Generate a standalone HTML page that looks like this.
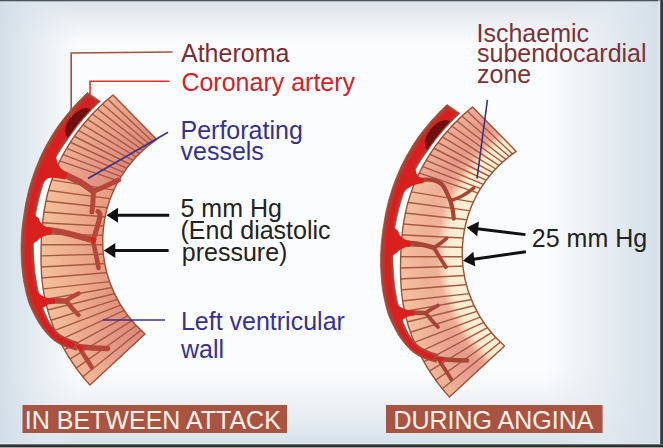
<!DOCTYPE html>
<html><head><meta charset="utf-8"><style>
html,body{margin:0;padding:0;background:#fff;width:663px;height:448px;overflow:hidden}
text{font-family:"Liberation Sans",sans-serif}
</style></head><body>
<svg width="663" height="448" viewBox="0 0 663 448" style="display:block">
<defs>
<linearGradient id="bgL" x1="0" y1="0" x2="80" y2="0" gradientUnits="userSpaceOnUse">
<stop offset="0" stop-color="#d2dee8" stop-opacity="1"/>
<stop offset="0.5" stop-color="#dfe7ef" stop-opacity="0.7"/>
<stop offset="1" stop-color="#e8eef3" stop-opacity="0"/>
</linearGradient>
<linearGradient id="bgR" x1="545" y1="0" x2="660" y2="0" gradientUnits="userSpaceOnUse">
<stop offset="0" stop-color="#e2e9f0" stop-opacity="0"/>
<stop offset="0.5" stop-color="#e2e9f0" stop-opacity="0.8"/>
<stop offset="1" stop-color="#d3dfe8" stop-opacity="1"/>
</linearGradient>
<linearGradient id="bgT" x1="0" y1="1" x2="0" y2="45" gradientUnits="userSpaceOnUse">
<stop offset="0" stop-color="#dae1e9" stop-opacity="1"/>
<stop offset="1" stop-color="#e3e9ef" stop-opacity="0"/>
</linearGradient>
<linearGradient id="bgB" x1="0" y1="370" x2="0" y2="444" gradientUnits="userSpaceOnUse">
<stop offset="0" stop-color="#e3eaf0" stop-opacity="0"/>
<stop offset="1" stop-color="#d6e1ea" stop-opacity="1"/>
</linearGradient>
<radialGradient id="wallgL" cx="225.6" cy="241.3" r="200" gradientUnits="userSpaceOnUse">
<stop offset="0.615" stop-color="#e69b84"/>
<stop offset="0.75" stop-color="#edac8d"/>
<stop offset="0.95" stop-color="#f5c29c"/>
</radialGradient>
<radialGradient id="wallgR" cx="225.6" cy="241.3" r="200" gradientUnits="userSpaceOnUse">
<stop offset="0.615" stop-color="#fcf1d5"/>
<stop offset="0.69" stop-color="#fbebcf"/>
<stop offset="0.74" stop-color="#f0b39a"/>
<stop offset="0.8" stop-color="#efb097"/>
<stop offset="0.95" stop-color="#f5c3a1"/>
</radialGradient>
<radialGradient id="pinkov" cx="225.6" cy="241.3" r="200" gradientUnits="userSpaceOnUse">
<stop offset="0.615" stop-color="#d8787a" stop-opacity="0.5"/>
<stop offset="0.95" stop-color="#d8787a" stop-opacity="0.2"/>
</radialGradient>
<radialGradient id="pinkovR" cx="225.6" cy="241.3" r="200" gradientUnits="userSpaceOnUse">
<stop offset="0.71" stop-color="#d8787a" stop-opacity="0"/>
<stop offset="0.78" stop-color="#d8787a" stop-opacity="0.4"/>
<stop offset="0.95" stop-color="#d8787a" stop-opacity="0.22"/>
</radialGradient>
<linearGradient id="lomg" x1="60" y1="300" x2="85" y2="350" gradientUnits="userSpaceOnUse">
<stop offset="0" stop-color="#fff" stop-opacity="0"/>
<stop offset="1" stop-color="#fff" stop-opacity="1"/>
</linearGradient>
<mask id="lomask" maskUnits="userSpaceOnUse" x="0" y="0" width="663" height="448"><rect x="0" y="0" width="663" height="448" fill="url(#lomg)"/></mask>
<filter id="blur4" x="-20%" y="-20%" width="140%" height="140%"><feGaussianBlur stdDeviation="4"/></filter>
</defs>
<rect width="663" height="448" fill="#fbfcfd"/>
<rect width="663" height="448" fill="url(#bgT)"/>
<rect width="663" height="448" fill="url(#bgB)"/>
<rect width="663" height="448" fill="url(#bgL)"/>
<rect width="663" height="448" fill="url(#bgR)"/>

<g id="L"><clipPath id="wcL"><path d="M113.0,95.0 L110.9,96.8 L108.8,98.5 L106.7,100.3 L104.6,102.1 L102.6,104.0 L100.6,105.8 L98.6,107.7 L96.7,109.7 L94.8,111.6 L92.9,113.6 L91.0,115.6 L89.2,117.6 L87.4,119.7 L85.6,121.7 L83.8,123.8 L82.1,126.0 L80.4,128.1 L78.8,130.3 L77.1,132.5 L75.5,134.7 L74.0,136.9 L72.4,139.2 L70.9,141.5 L69.4,143.8 L68.0,146.1 L66.6,148.5 L65.2,150.8 L63.9,153.2 L62.5,155.6 L61.3,158.0 L60.0,160.5 L58.8,162.9 L57.7,165.4 L56.6,167.9 L55.5,170.4 L54.4,173.0 L53.4,175.5 L52.5,178.1 L51.6,180.6 L50.7,183.2 L49.9,185.8 L49.1,188.4 L48.3,191.1 L47.6,193.7 L47.0,196.3 L46.4,199.0 L45.8,201.6 L45.3,204.3 L44.8,207.0 L44.3,209.7 L43.9,212.4 L43.5,215.0 L43.2,217.7 L42.9,220.4 L42.6,223.1 L42.3,225.8 L42.1,228.5 L41.9,231.2 L41.7,233.9 L41.6,236.6 L41.4,239.3 L41.3,242.0 L41.2,244.7 L41.1,247.4 L41.1,250.1 L41.0,252.8 L41.0,255.5 L41.0,258.2 L41.0,260.9 L41.1,263.6 L41.2,266.3 L41.3,269.0 L41.4,271.7 L41.6,274.4 L41.8,277.1 L42.0,279.8 L42.3,282.5 L42.6,285.2 L43.0,287.9 L43.4,290.6 L43.9,293.3 L44.4,296.0 L44.9,298.7 L45.5,301.3 L46.1,304.0 L46.8,306.6 L47.5,309.3 L48.2,311.9 L49.0,314.5 L49.9,317.1 L50.8,319.7 L51.7,322.3 L52.6,324.8 L53.6,327.4 L54.7,329.9 L55.8,332.4 L56.9,334.9 L58.0,337.4 L59.2,339.9 L60.5,342.3 L61.7,344.7 L63.0,347.2 L64.3,349.5 L65.7,351.9 L67.1,354.3 L68.5,356.6 L70.0,358.9 L71.5,361.2 L73.0,363.5 L74.6,365.7 L76.1,368.0 L77.8,370.2 L79.4,372.4 L81.1,374.5 L82.8,376.7 L84.5,378.8 L86.3,380.9 L88.1,382.9 L89.9,385.0 L145,334 A123,123 0 0 1 156.7,139.4 Z"/></clipPath>
<path d="M101.5,100.0 L99.1,102.2 L96.7,104.4 L94.4,106.6 L92.1,108.9 L89.9,111.3 L87.7,113.6 L85.5,116.0 L83.4,118.4 L81.2,120.9 L79.2,123.4 L77.1,125.9 L75.2,128.4 L73.2,131.0 L71.3,133.6 L69.4,136.3 L67.5,138.9 L65.6,141.5 L63.8,144.2 L62.0,146.9 L60.2,149.6 L58.5,152.4 L56.8,155.2 L55.2,158.0 L53.6,160.9 L52.0,163.7 L50.5,166.6 L49.0,169.5 L47.6,172.5 L46.2,175.5 L44.9,178.5 L43.7,181.5 L42.7,184.6 L41.7,187.7 L40.7,190.9 L39.8,194.0 L39.0,197.2 L38.2,200.4 L37.4,203.5 L36.7,206.7 L36.1,210.0 L35.5,213.2 L34.9,216.4 L34.5,219.7 L34.2,222.9 L33.9,226.2 L33.6,229.4 L33.4,232.7 L33.2,235.9 L33.1,239.2 L33.1,242.5 L33.1,245.7 L33.1,249.0 L33.2,252.2 L33.3,255.5 L33.5,258.7 L33.7,262.0 L33.9,265.2 L34.2,268.4 L34.6,271.7 L35.0,274.9 L35.5,278.1 L36.0,281.3 L36.5,284.5 L37.2,287.7 L37.8,290.9 L38.5,294.0 L39.3,297.2 L40.1,300.3 L41.0,303.4 L42.0,306.5 L43.5,309.4 L44.9,312.4 L46.3,315.3 L47.8,318.2 L49.3,321.1 L50.8,323.9 L52.4,326.7 L54.0,329.5 L55.7,332.2 L56.1,332.0 L54.9,329.1 L53.7,326.2 L52.6,323.2 L51.5,320.2 L50.4,317.3 L49.5,314.3 L48.6,311.2 L47.7,308.2 L46.9,305.1 L46.1,302.1 L45.5,299.0 L44.8,295.9 L44.3,292.8 L43.8,289.7 L43.3,286.6 L42.9,283.4 L42.6,280.3 L42.3,277.2 L42.1,274.1 L41.9,270.9 L41.7,267.8 L41.6,264.7 L41.5,261.5 L41.5,258.4 L41.5,255.3 L41.5,252.2 L41.6,249.0 L41.7,245.9 L41.8,242.8 L41.9,239.7 L42.1,236.6 L42.2,233.5 L42.5,230.3 L42.7,227.2 L43.0,224.1 L43.3,221.0 L43.7,217.9 L44.1,214.8 L44.5,211.7 L45.0,208.6 L45.5,205.5 L46.1,202.4 L46.8,199.3 L47.5,196.2 L48.3,193.2 L49.1,190.1 L50.0,187.1 L50.9,184.1 L51.9,181.1 L53.0,178.1 L54.1,175.2 L55.3,172.2 L56.5,169.3 L57.8,166.4 L59.1,163.5 L60.5,160.7 L61.9,157.9 L63.4,155.1 L64.9,152.3 L66.5,149.6 L68.1,146.9 L69.8,144.2 L71.5,141.5 L73.2,138.9 L75.0,136.3 L76.9,133.7 L78.8,131.1 L80.7,128.6 L82.6,126.1 L84.6,123.7 L86.7,121.3 L88.7,118.9 L90.9,116.5 L93.0,114.2 L95.2,111.9 L97.4,109.7 L99.7,107.4 L102.0,105.3 L104.3,103.1 Z" fill="#ffffff"/>
<path d="M113.0,95.0 L110.9,96.8 L108.8,98.5 L106.7,100.3 L104.6,102.1 L102.6,104.0 L100.6,105.8 L98.6,107.7 L96.7,109.7 L94.8,111.6 L92.9,113.6 L91.0,115.6 L89.2,117.6 L87.4,119.7 L85.6,121.7 L83.8,123.8 L82.1,126.0 L80.4,128.1 L78.8,130.3 L77.1,132.5 L75.5,134.7 L74.0,136.9 L72.4,139.2 L70.9,141.5 L69.4,143.8 L68.0,146.1 L66.6,148.5 L65.2,150.8 L63.9,153.2 L62.5,155.6 L61.3,158.0 L60.0,160.5 L58.8,162.9 L57.7,165.4 L56.6,167.9 L55.5,170.4 L54.4,173.0 L53.4,175.5 L52.5,178.1 L51.6,180.6 L50.7,183.2 L49.9,185.8 L49.1,188.4 L48.3,191.1 L47.6,193.7 L47.0,196.3 L46.4,199.0 L45.8,201.6 L45.3,204.3 L44.8,207.0 L44.3,209.7 L43.9,212.4 L43.5,215.0 L43.2,217.7 L42.9,220.4 L42.6,223.1 L42.3,225.8 L42.1,228.5 L41.9,231.2 L41.7,233.9 L41.6,236.6 L41.4,239.3 L41.3,242.0 L41.2,244.7 L41.1,247.4 L41.1,250.1 L41.0,252.8 L41.0,255.5 L41.0,258.2 L41.0,260.9 L41.1,263.6 L41.2,266.3 L41.3,269.0 L41.4,271.7 L41.6,274.4 L41.8,277.1 L42.0,279.8 L42.3,282.5 L42.6,285.2 L43.0,287.9 L43.4,290.6 L43.9,293.3 L44.4,296.0 L44.9,298.7 L45.5,301.3 L46.1,304.0 L46.8,306.6 L47.5,309.3 L48.2,311.9 L49.0,314.5 L49.9,317.1 L50.8,319.7 L51.7,322.3 L52.6,324.8 L53.6,327.4 L54.7,329.9 L55.8,332.4 L56.9,334.9 L58.0,337.4 L59.2,339.9 L60.5,342.3 L61.7,344.7 L63.0,347.2 L64.3,349.5 L65.7,351.9 L67.1,354.3 L68.5,356.6 L70.0,358.9 L71.5,361.2 L73.0,363.5 L74.6,365.7 L76.1,368.0 L77.8,370.2 L79.4,372.4 L81.1,374.5 L82.8,376.7 L84.5,378.8 L86.3,380.9 L88.1,382.9 L89.9,385.0 L145,334 A123,123 0 0 1 156.7,139.4 Z" fill="url(#wallgL)"/>
<g clip-path="url(#wcL)">
<path d="M100,40 L0,150 L56,162 C64,171 72,176 80,180 C85,183 89,186 93,189 C101,186.5 110,183 119,179 L220,100 Z" fill="url(#pinkov)"/>
<rect x="20" y="280" width="180" height="150" fill="url(#pinkov)" mask="url(#lomask)"/>
<path d="M104.9,96.6 L156.7,145.5 M99.4,101.5 L153.6,147.8 M94.2,106.5 L150.3,150.4 M89.1,111.8 L147.1,153.2 M84.2,117.2 L143.8,156.3 M79.5,122.8 L140.6,159.5 M75.1,128.6 L137.4,162.9 M70.8,134.5 L134.3,166.5 M66.7,140.5 L131.3,170.3 M62.9,146.7 L128.5,174.3 M59.3,153.1 L125.8,178.4 M55.9,159.6 L123.2,182.7 M36.2,278.4 L111.7,272.2 M35.0,267.3 L109.7,263.2 M34.4,256.1 L108.3,254.0 M34.4,244.8 L107.7,244.8 M35.0,233.7 L107.7,235.5 M36.3,222.5 L108.6,226.3 M38.2,211.5 L110.1,217.2 M40.6,200.5 L112.3,208.2 M43.7,189.7 L115.3,199.4 M47.3,179.1 L118.9,190.9 M38.0,289.5 L114.5,281.1 M40.4,300.3 L116.7,286.8 M43.4,311.0 L119.3,292.5 M46.9,321.5 L122.1,297.9 M51.0,331.9 L125.2,303.3 M55.7,341.9 L128.6,308.4 M61.0,351.7 L132.2,313.4 M66.7,361.2 L136.1,318.2 M73.0,370.4 L140.2,322.8 M79.7,379.2 L144.6,327.1" stroke="#a65a41" stroke-width="1.4" fill="none"/>
</g>
<path d="M113.0,95.0 L110.9,96.8 L108.8,98.5 L106.7,100.3 L104.6,102.1 L102.6,104.0 L100.6,105.8 L98.6,107.7 L96.7,109.7 L94.8,111.6 L92.9,113.6 L91.0,115.6 L89.2,117.6 L87.4,119.7 L85.6,121.7 L83.8,123.8 L82.1,126.0 L80.4,128.1 L78.8,130.3 L77.1,132.5 L75.5,134.7 L74.0,136.9 L72.4,139.2 L70.9,141.5 L69.4,143.8 L68.0,146.1 L66.6,148.5 L65.2,150.8 L63.9,153.2 L62.5,155.6 L61.3,158.0 L60.0,160.5 L58.8,162.9 L57.7,165.4 L56.6,167.9 L55.5,170.4 L54.4,173.0 L53.4,175.5 L52.5,178.1 L51.6,180.6 L50.7,183.2 L49.9,185.8 L49.1,188.4 L48.3,191.1 L47.6,193.7 L47.0,196.3 L46.4,199.0 L45.8,201.6 L45.3,204.3 L44.8,207.0 L44.3,209.7 L43.9,212.4 L43.5,215.0 L43.2,217.7 L42.9,220.4 L42.6,223.1 L42.3,225.8 L42.1,228.5 L41.9,231.2 L41.7,233.9 L41.6,236.6 L41.4,239.3 L41.3,242.0 L41.2,244.7 L41.1,247.4 L41.1,250.1 L41.0,252.8 L41.0,255.5 L41.0,258.2 L41.0,260.9 L41.1,263.6 L41.2,266.3 L41.3,269.0 L41.4,271.7 L41.6,274.4 L41.8,277.1 L42.0,279.8 L42.3,282.5 L42.6,285.2 L43.0,287.9 L43.4,290.6 L43.9,293.3 L44.4,296.0 L44.9,298.7 L45.5,301.3 L46.1,304.0 L46.8,306.6 L47.5,309.3 L48.2,311.9 L49.0,314.5 L49.9,317.1 L50.8,319.7 L51.7,322.3 L52.6,324.8 L53.6,327.4 L54.7,329.9 L55.8,332.4 L56.9,334.9 L58.0,337.4 L59.2,339.9 L60.5,342.3 L61.7,344.7 L63.0,347.2 L64.3,349.5 L65.7,351.9 L67.1,354.3 L68.5,356.6 L70.0,358.9 L71.5,361.2 L73.0,363.5 L74.6,365.7 L76.1,368.0 L77.8,370.2 L79.4,372.4 L81.1,374.5 L82.8,376.7 L84.5,378.8 L86.3,380.9 L88.1,382.9 L89.9,385.0 L145,334 A123,123 0 0 1 156.7,139.4 Z" fill="none" stroke="#9e4f36" stroke-width="1.4" stroke-linejoin="round"/>
<path d="M87.5,92.6 L85.7,94.3 L83.9,96.0 L82.2,97.7 L80.4,99.5 L78.7,101.3 L77.0,103.1 L75.3,104.9 L73.6,106.7 L71.9,108.6 L70.3,110.5 L68.7,112.4 L67.1,114.3 L65.5,116.2 L64.0,118.2 L62.5,120.1 L61.0,122.1 L59.5,124.1 L58.0,126.1 L56.6,128.2 L55.2,130.2 L53.9,132.3 L52.5,134.4 L51.3,136.6 L50.0,138.7 L48.8,140.9 L47.5,143.0 L46.3,145.2 L45.2,147.4 L44.0,149.6 L42.9,151.8 L41.8,154.1 L40.8,156.3 L39.7,158.6 L38.8,160.9 L37.8,163.2 L36.9,165.5 L35.9,167.8 L35.1,170.1 L34.2,172.4 L33.4,174.8 L32.6,177.1 L31.8,179.5 L31.1,181.8 L30.4,184.2 L29.7,186.6 L29.0,189.0 L28.4,191.4 L27.8,193.8 L27.3,196.2 L26.7,198.6 L26.2,201.1 L25.7,203.5 L25.3,205.9 L24.9,208.3 L24.5,210.8 L24.1,213.2 L23.7,215.7 L23.3,218.1 L23.0,220.6 L22.7,223.0 L22.4,225.5 L22.1,227.9 L21.9,230.4 L21.7,232.8 L21.5,235.3 L21.4,237.7 L21.3,240.2 L21.2,242.7 L21.1,245.1 L21.1,247.6 L21.1,250.1 L21.1,252.5 L21.2,255.0 L21.3,257.5 L21.4,259.9 L21.6,262.4 L21.7,264.8 L21.9,267.3 L22.2,269.8 L22.4,272.2 L22.7,274.7 L23.0,277.1 L23.4,279.5 L23.8,282.0 L24.3,284.4 L24.8,286.8 L25.3,289.2 L25.8,291.6 L26.4,294.0 L27.0,296.4 L27.7,298.7 L28.3,301.1 L29.1,303.4 L30.0,305.7 L31.1,308.0 L32.1,310.2 L33.2,312.4 L34.3,314.6 L35.4,316.8 L36.6,319.0 L37.8,321.1 L39.0,323.2 L40.4,325.3 L41.9,327.3 L43.4,329.3 L44.9,331.2 L46.5,333.1 L48.4,334.8 L50.4,336.5 L53.1,335.3 L52.8,332.9 L52.4,330.5 L51.6,328.3 L50.7,326.2 L49.7,324.1 L48.8,321.9 L47.8,319.8 L46.9,317.7 L45.9,315.5 L45.0,313.4 L44.1,311.2 L43.2,309.0 L42.4,306.8 L41.7,304.6 L41.0,302.4 L40.3,300.1 L39.7,297.8 L39.2,295.6 L38.6,293.3 L38.1,291.0 L37.7,288.7 L37.2,286.4 L36.8,284.1 L36.4,281.8 L36.0,279.4 L35.6,277.1 L35.3,274.8 L35.0,272.5 L34.7,270.1 L34.5,267.8 L34.3,265.5 L34.1,263.1 L33.9,260.8 L33.8,258.4 L33.7,256.1 L33.6,253.7 L33.5,251.4 L33.4,249.0 L33.4,246.6 L33.4,244.3 L33.4,241.9 L33.4,239.6 L33.5,237.2 L33.6,234.8 L33.7,232.5 L33.9,230.1 L34.0,227.8 L34.2,225.4 L34.5,223.1 L34.7,220.7 L35.0,218.4 L35.3,216.0 L35.7,213.7 L36.1,211.3 L36.6,209.0 L37.0,206.7 L37.5,204.4 L38.1,202.1 L38.6,199.8 L39.2,197.5 L39.8,195.2 L40.4,192.9 L41.1,190.6 L41.8,188.3 L42.5,186.1 L43.2,183.8 L44.0,181.6 L44.9,179.4 L45.8,177.2 L46.8,175.0 L47.8,172.9 L48.8,170.7 L49.8,168.6 L50.9,166.5 L52.0,164.4 L53.1,162.3 L54.3,160.3 L55.4,158.2 L56.6,156.2 L57.8,154.1 L59.0,152.1 L60.3,150.1 L61.5,148.1 L62.8,146.2 L64.1,144.2 L65.5,142.3 L66.8,140.4 L68.2,138.5 L69.6,136.6 L70.9,134.7 L72.3,132.7 L73.7,130.9 L75.1,129.0 L76.5,127.1 L78.0,125.3 L79.5,123.5 L81.0,121.7 L82.5,119.9 L84.0,118.1 L85.6,116.4 L87.1,114.7 L88.7,112.9 L90.3,111.2 L92.0,109.5 L93.6,107.9 L95.3,106.2 L96.9,104.6 L98.6,103.0 L100.4,101.4 Z" fill="#a24836" stroke="#a24836" stroke-width="0.8" stroke-linejoin="round"/>
<path d="M87.9,95.1 L85.7,97.2 L83.6,99.3 L81.5,101.4 L79.5,103.5 L77.4,105.6 L75.4,107.8 L73.5,110.0 L71.5,112.3 L69.6,114.5 L67.7,116.8 L65.9,119.1 L64.1,121.5 L62.3,123.9 L60.5,126.3 L58.8,128.7 L57.1,131.1 L55.5,133.6 L54.0,136.1 L52.4,138.7 L50.9,141.3 L49.5,143.8 L48.1,146.4 L46.7,149.1 L45.3,151.7 L44.0,154.4 L42.7,157.0 L41.5,159.7 L40.4,162.5 L39.2,165.2 L38.1,168.0 L37.1,170.7 L36.0,173.5 L35.1,176.3 L34.1,179.1 L33.2,181.9 L32.4,184.8 L31.6,187.6 L30.8,190.5 L30.1,193.3 L29.4,196.2 L28.8,199.1 L28.2,202.0 L27.6,204.9 L27.1,207.8 L26.6,210.7 L26.2,213.6 L25.7,216.5 L25.3,219.4 L24.9,222.3 L24.5,225.2 L24.2,228.2 L24.0,231.1 L23.7,234.0 L23.5,237.0 L23.4,239.9 L23.3,242.9 L23.2,245.8 L23.2,248.7 L23.2,251.7 L23.3,254.6 L23.4,257.5 L23.5,260.5 L23.7,263.4 L24.0,266.3 L24.2,269.3 L24.5,272.2 L24.9,275.1 L25.3,278.0 L25.7,280.9 L26.3,283.8 L26.9,286.7 L27.5,289.5 L28.2,292.4 L28.9,295.2 L29.7,298.1 L30.4,300.9 L31.4,303.6 L32.6,306.3 L33.9,309.0 L35.1,311.7 L36.5,314.3 L37.8,316.9 L39.2,319.4 L40.7,322.0 L42.3,324.4 L44.1,326.8 L45.8,329.2 L47.7,331.5 L49.9,333.6 L51.3,333.0 L50.8,330.1 L49.6,327.6 L48.5,325.0 L47.3,322.4 L46.2,319.8 L45.0,317.2 L43.9,314.6 L42.8,312.0 L41.7,309.3 L40.8,306.7 L39.9,304.0 L39.1,301.2 L38.4,298.5 L37.7,295.7 L37.0,293.0 L36.4,290.2 L35.9,287.4 L35.3,284.6 L34.8,281.8 L34.4,279.0 L34.0,276.1 L33.6,273.3 L33.3,270.5 L33.0,267.6 L32.7,264.8 L32.5,262.0 L32.3,259.1 L32.2,256.3 L32.1,253.4 L32.0,250.5 L31.9,247.7 L31.9,244.8 L31.9,242.0 L31.9,239.1 L32.0,236.2 L32.2,233.4 L32.3,230.5 L32.5,227.7 L32.8,224.8 L33.1,221.9 L33.4,219.1 L33.8,216.2 L34.2,213.4 L34.7,210.6 L35.3,207.8 L35.9,204.9 L36.5,202.1 L37.2,199.3 L37.9,196.6 L38.6,193.8 L39.4,191.0 L40.2,188.3 L41.1,185.5 L42.0,182.8 L42.9,180.1 L44.1,177.4 L45.2,174.8 L46.5,172.2 L47.7,169.6 L49.0,167.0 L50.3,164.5 L51.6,161.9 L53.0,159.4 L54.4,156.9 L55.9,154.5 L57.3,152.0 L58.8,149.6 L60.4,147.2 L62.0,144.8 L63.6,142.4 L65.2,140.1 L66.9,137.8 L68.5,135.5 L70.2,133.2 L71.8,130.9 L73.5,128.6 L75.3,126.3 L77.0,124.1 L78.8,121.9 L80.6,119.7 L82.5,117.6 L84.4,115.5 L86.3,113.4 L88.2,111.3 L90.2,109.2 L92.2,107.2 L94.2,105.2 L96.2,103.2 L98.3,101.3 Z" fill="#bf3328"/>
<path d="M88.1,98.1 L86.1,100.1 L84.0,102.1 L82.0,104.2 L80.0,106.3 L78.1,108.4 L76.1,110.5 L74.2,112.7 L72.3,114.9 L70.5,117.1 L68.7,119.3 L66.9,121.6 L65.1,123.9 L63.4,126.2 L61.7,128.5 L60.1,130.9 L58.5,133.3 L56.9,135.7 L55.4,138.2 L53.9,140.7 L52.5,143.2 L51.1,145.7 L49.7,148.2 L48.4,150.8 L47.1,153.4 L45.8,155.9 L44.6,158.5 L43.4,161.2 L42.3,163.8 L41.2,166.5 L40.1,169.2 L39.1,171.9 L38.1,174.6 L37.2,177.3 L36.2,180.0 L35.4,182.8 L34.6,185.5 L33.8,188.3 L33.0,191.1 L32.3,193.8 L31.7,196.6 L31.0,199.4 L30.5,202.3 L29.9,205.1 L29.4,207.9 L28.9,210.7 L28.5,213.5 L28.0,216.4 L27.6,219.2 L27.2,222.0 L26.9,224.9 L26.6,227.7 L26.3,230.6 L26.1,233.4 L25.9,236.3 L25.7,239.1 L25.6,242.0 L25.5,244.8 L25.5,247.7 L25.5,250.6 L25.5,253.4 L25.6,256.3 L25.8,259.1 L25.9,262.0 L26.1,264.8 L26.4,267.7 L26.7,270.5 L27.0,273.4 L27.4,276.2 L27.7,279.0 L28.2,281.8 L28.8,284.6 L29.4,287.4 L30.0,290.2 L30.7,293.0 L31.4,295.7 L32.2,298.5 L32.9,301.2 L34.0,303.9 L35.2,306.5 L36.4,309.1 L37.7,311.6 L39.0,314.2 L40.3,316.7 L41.7,319.2 L43.1,321.7 L44.7,324.0 L46.5,326.3 L48.2,328.6 L50.0,330.8 L49.6,331.0 L48.4,328.5 L47.2,325.9 L46.1,323.4 L45.0,320.8 L43.9,318.2 L42.7,315.7 L41.6,313.1 L40.6,310.5 L39.6,307.8 L38.7,305.1 L37.9,302.4 L37.1,299.7 L36.4,297.0 L35.8,294.3 L35.2,291.5 L34.6,288.7 L34.1,286.0 L33.6,283.2 L33.1,280.4 L32.7,277.6 L32.3,274.8 L31.9,272.0 L31.6,269.2 L31.3,266.4 L31.1,263.6 L30.9,260.8 L30.7,258.0 L30.6,255.1 L30.5,252.3 L30.5,249.5 L30.4,246.6 L30.4,243.8 L30.4,241.0 L30.5,238.1 L30.6,235.3 L30.7,232.5 L30.9,229.6 L31.1,226.8 L31.4,224.0 L31.6,221.2 L32.0,218.3 L32.3,215.5 L32.8,212.7 L33.3,209.9 L33.9,207.1 L34.5,204.3 L35.1,201.6 L35.8,198.8 L36.5,196.0 L37.2,193.3 L38.0,190.5 L38.8,187.8 L39.7,185.1 L40.6,182.4 L41.5,179.7 L42.6,177.1 L43.7,174.5 L44.9,171.9 L46.2,169.3 L47.4,166.8 L48.7,164.2 L50.0,161.7 L51.4,159.2 L52.8,156.8 L54.2,154.3 L55.7,151.9 L57.1,149.5 L58.7,147.1 L60.2,144.7 L61.8,142.4 L63.4,140.1 L65.0,137.8 L66.7,135.5 L68.3,133.2 L70.0,130.9 L71.6,128.6 L73.3,126.4 L75.1,124.2 L76.8,122.0 L78.6,119.8 L80.4,117.7 L82.3,115.6 L84.2,113.5 L86.1,111.4 L88.0,109.3 L89.9,107.3 L91.9,105.3 L93.9,103.4 L95.9,101.4 Z" fill="#da1d21"/>
<path d="M67.5,138.3 L66.9,136.9 L66.3,135.6 L65.7,134.3 L65.6,133.3 L65.5,132.2 L65.3,131.2 L65.2,130.1 L65.2,129.2 L65.5,128.4 L65.7,127.6 L65.9,126.8 L66.2,126.0 L66.4,125.2 L66.6,124.3 L67.0,123.6 L67.4,122.9 L67.8,122.2 L68.2,121.5 L68.6,120.8 L69.0,120.2 L69.5,119.5 L69.9,118.8 L70.3,118.1 L70.8,117.4 L71.3,116.9 L71.9,116.3 L72.5,115.7 L73.1,115.2 L73.6,114.6 L74.2,114.0 L74.8,113.5 L75.4,112.9 L76.0,112.4 L76.6,111.9 L77.4,111.5 L78.1,111.1 L78.8,110.6 L79.5,110.2 L80.2,109.8 L81.0,109.4 L81.8,109.1 L82.7,108.8 L83.6,108.6 L84.5,108.4 L85.4,108.1 L86.5,108.0 L88.0,108.4 L89.4,108.7 L90.9,109.0 L90.9,109.0 L90.3,109.6 L89.8,110.1 L89.3,110.7 L88.8,111.3 L88.2,111.8 L87.7,112.4 L87.2,112.9 L86.7,113.5 L86.2,114.1 L85.7,114.6 L85.2,115.2 L84.7,115.8 L84.2,116.4 L83.7,116.9 L83.2,117.5 L82.7,118.1 L82.2,118.7 L81.7,119.3 L81.2,119.9 L80.7,120.4 L80.2,121.0 L79.7,121.6 L79.2,122.2 L78.8,122.8 L78.3,123.4 L77.8,124.0 L77.3,124.6 L76.9,125.2 L76.4,125.8 L75.9,126.4 L75.5,127.0 L75.0,127.6 L74.5,128.3 L74.1,128.9 L73.6,129.5 L73.2,130.1 L72.7,130.7 L72.3,131.3 L71.8,132.0 L71.4,132.6 L70.9,133.2 L70.5,133.8 L70.1,134.5 L69.6,135.1 L69.2,135.7 L68.8,136.4 L68.3,137.0 L67.9,137.6 L67.5,138.3 Z" fill="#6e0f10"/><path d="M40.5,315 C44,323 48.6,329 53,334 C58,339.5 66,343.5 78,346.5" stroke="#a84836" stroke-width="9" fill="none" stroke-linecap="butt"/>
<path d="M40.8,315.5 C44,323 48.6,329 53,334 C58,339.5 64,342.5 72,345" stroke="#d81e21" stroke-width="5" fill="none" stroke-linecap="round"/>
<path d="M58,171.5 C64,174.5 72,178 80,182 C85,185 89,188 93.5,191.5" stroke="#b6463a" stroke-width="6.50" fill="none" stroke-linecap="round"/>
<path d="M94,191 C101,188.5 110,184 118.5,180" stroke="#b6463a" stroke-width="5.00" fill="none" stroke-linecap="round"/>
<path d="M93.5,192 C93.2,199 92.7,206 92,212" stroke="#b6463a" stroke-width="5.00" fill="none" stroke-linecap="round"/>
<path d="M48,230 C54,230.5 62,232 72,234.5 C80,236.5 87,238.5 93,240.5" stroke="#b6463a" stroke-width="6.00" fill="none" stroke-linecap="round"/>
<path d="M93,240 C95.5,233 98.5,224 100,216 C100.2,214 99.5,212.5 98,211.5" stroke="#b6463a" stroke-width="5.00" fill="none" stroke-linecap="round"/>
<path d="M93,241 C95,250 97,259 98.5,268" stroke="#b6463a" stroke-width="4.50" fill="none" stroke-linecap="round"/>
<path d="M50,300.5 C54,300.8 60,301 66,301" stroke="#b6463a" stroke-width="5.50" fill="none" stroke-linecap="round"/>
<path d="M66,301 C70,298 74,295.5 78.5,293.5" stroke="#b6463a" stroke-width="4.50" fill="none" stroke-linecap="round"/>
<path d="M66,301 C70,306 74,310.5 78.5,315" stroke="#b6463a" stroke-width="4.50" fill="none" stroke-linecap="round"/>
<path d="M77,346.3 C88,348 98,348.5 107.5,348.5" stroke="#b6463a" stroke-width="5.50" fill="none" stroke-linecap="round"/>
<path d="M79,347 C83,354 88,361 91.8,367.4" stroke="#b6463a" stroke-width="4.50" fill="none" stroke-linecap="round"/>
<path d="M54,152 L56.5,159 Q58,169 68,173 L65,179.5 Q55,177 48.5,178 L38,186 Z" fill="#d9201f"/>
<path d="M30,212 L38.5,218 Q41,227 52,228.5 L52,234.5 Q42,235 37,241 L29,246 Z" fill="#d9201f"/>
<path d="M89,236 L97,239 L93,245 Z" fill="#d9201f"/>
<path d="M33,288 L41,295 Q46,298.5 55,298.8 L55,303.5 Q47,304 45,306.5 L37,312 Z" fill="#d9201f"/>
<path d="M76,345 L84,346 L81,352 Z" fill="#d9201f"/></g>
<g transform="translate(359.5,12)"><clipPath id="wcR"><path d="M113.0,95.0 L110.9,96.8 L108.8,98.5 L106.7,100.3 L104.6,102.1 L102.6,104.0 L100.6,105.8 L98.6,107.7 L96.7,109.7 L94.8,111.6 L92.9,113.6 L91.0,115.6 L89.2,117.6 L87.4,119.7 L85.6,121.7 L83.8,123.8 L82.1,126.0 L80.4,128.1 L78.8,130.3 L77.1,132.5 L75.5,134.7 L74.0,136.9 L72.4,139.2 L70.9,141.5 L69.4,143.8 L68.0,146.1 L66.6,148.5 L65.2,150.8 L63.9,153.2 L62.5,155.6 L61.3,158.0 L60.0,160.5 L58.8,162.9 L57.7,165.4 L56.6,167.9 L55.5,170.4 L54.4,173.0 L53.4,175.5 L52.5,178.1 L51.6,180.6 L50.7,183.2 L49.9,185.8 L49.1,188.4 L48.3,191.1 L47.6,193.7 L47.0,196.3 L46.4,199.0 L45.8,201.6 L45.3,204.3 L44.8,207.0 L44.3,209.7 L43.9,212.4 L43.5,215.0 L43.2,217.7 L42.9,220.4 L42.6,223.1 L42.3,225.8 L42.1,228.5 L41.9,231.2 L41.7,233.9 L41.6,236.6 L41.4,239.3 L41.3,242.0 L41.2,244.7 L41.1,247.4 L41.1,250.1 L41.0,252.8 L41.0,255.5 L41.0,258.2 L41.0,260.9 L41.1,263.6 L41.2,266.3 L41.3,269.0 L41.4,271.7 L41.6,274.4 L41.8,277.1 L42.0,279.8 L42.3,282.5 L42.6,285.2 L43.0,287.9 L43.4,290.6 L43.9,293.3 L44.4,296.0 L44.9,298.7 L45.5,301.3 L46.1,304.0 L46.8,306.6 L47.5,309.3 L48.2,311.9 L49.0,314.5 L49.9,317.1 L50.8,319.7 L51.7,322.3 L52.6,324.8 L53.6,327.4 L54.7,329.9 L55.8,332.4 L56.9,334.9 L58.0,337.4 L59.2,339.9 L60.5,342.3 L61.7,344.7 L63.0,347.2 L64.3,349.5 L65.7,351.9 L67.1,354.3 L68.5,356.6 L70.0,358.9 L71.5,361.2 L73.0,363.5 L74.6,365.7 L76.1,368.0 L77.8,370.2 L79.4,372.4 L81.1,374.5 L82.8,376.7 L84.5,378.8 L86.3,380.9 L88.1,382.9 L89.9,385.0 L145,334 A123,123 0 0 1 156.7,139.4 Z"/></clipPath>
<path d="M101.5,100.0 L99.1,102.2 L96.7,104.4 L94.4,106.6 L92.1,108.9 L89.9,111.3 L87.7,113.6 L85.5,116.0 L83.4,118.4 L81.2,120.9 L79.2,123.4 L77.1,125.9 L75.2,128.4 L73.2,131.0 L71.3,133.6 L69.4,136.3 L67.5,138.9 L65.6,141.5 L63.8,144.2 L62.0,146.9 L60.2,149.6 L58.5,152.4 L56.8,155.2 L55.2,158.0 L53.6,160.9 L52.0,163.7 L50.5,166.6 L49.0,169.5 L47.6,172.5 L46.2,175.5 L44.9,178.5 L43.7,181.5 L42.7,184.6 L41.7,187.7 L40.7,190.9 L39.8,194.0 L39.0,197.2 L38.2,200.4 L37.4,203.5 L36.7,206.7 L36.1,210.0 L35.5,213.2 L34.9,216.4 L34.5,219.7 L34.2,222.9 L33.9,226.2 L33.6,229.4 L33.4,232.7 L33.2,235.9 L33.1,239.2 L33.1,242.5 L33.1,245.7 L33.1,249.0 L33.2,252.2 L33.3,255.5 L33.5,258.7 L33.7,262.0 L33.9,265.2 L34.2,268.4 L34.6,271.7 L35.0,274.9 L35.5,278.1 L36.0,281.3 L36.5,284.5 L37.2,287.7 L37.8,290.9 L38.5,294.0 L39.3,297.2 L40.1,300.3 L41.0,303.4 L42.0,306.5 L43.5,309.4 L44.9,312.4 L46.3,315.3 L47.8,318.2 L49.3,321.1 L50.8,323.9 L52.4,326.7 L54.0,329.5 L55.7,332.2 L56.1,332.0 L54.9,329.1 L53.7,326.2 L52.6,323.2 L51.5,320.2 L50.4,317.3 L49.5,314.3 L48.6,311.2 L47.7,308.2 L46.9,305.1 L46.1,302.1 L45.5,299.0 L44.8,295.9 L44.3,292.8 L43.8,289.7 L43.3,286.6 L42.9,283.4 L42.6,280.3 L42.3,277.2 L42.1,274.1 L41.9,270.9 L41.7,267.8 L41.6,264.7 L41.5,261.5 L41.5,258.4 L41.5,255.3 L41.5,252.2 L41.6,249.0 L41.7,245.9 L41.8,242.8 L41.9,239.7 L42.1,236.6 L42.2,233.5 L42.5,230.3 L42.7,227.2 L43.0,224.1 L43.3,221.0 L43.7,217.9 L44.1,214.8 L44.5,211.7 L45.0,208.6 L45.5,205.5 L46.1,202.4 L46.8,199.3 L47.5,196.2 L48.3,193.2 L49.1,190.1 L50.0,187.1 L50.9,184.1 L51.9,181.1 L53.0,178.1 L54.1,175.2 L55.3,172.2 L56.5,169.3 L57.8,166.4 L59.1,163.5 L60.5,160.7 L61.9,157.9 L63.4,155.1 L64.9,152.3 L66.5,149.6 L68.1,146.9 L69.8,144.2 L71.5,141.5 L73.2,138.9 L75.0,136.3 L76.9,133.7 L78.8,131.1 L80.7,128.6 L82.6,126.1 L84.6,123.7 L86.7,121.3 L88.7,118.9 L90.9,116.5 L93.0,114.2 L95.2,111.9 L97.4,109.7 L99.7,107.4 L102.0,105.3 L104.3,103.1 Z" fill="#ffffff"/>
<path d="M113.0,95.0 L110.9,96.8 L108.8,98.5 L106.7,100.3 L104.6,102.1 L102.6,104.0 L100.6,105.8 L98.6,107.7 L96.7,109.7 L94.8,111.6 L92.9,113.6 L91.0,115.6 L89.2,117.6 L87.4,119.7 L85.6,121.7 L83.8,123.8 L82.1,126.0 L80.4,128.1 L78.8,130.3 L77.1,132.5 L75.5,134.7 L74.0,136.9 L72.4,139.2 L70.9,141.5 L69.4,143.8 L68.0,146.1 L66.6,148.5 L65.2,150.8 L63.9,153.2 L62.5,155.6 L61.3,158.0 L60.0,160.5 L58.8,162.9 L57.7,165.4 L56.6,167.9 L55.5,170.4 L54.4,173.0 L53.4,175.5 L52.5,178.1 L51.6,180.6 L50.7,183.2 L49.9,185.8 L49.1,188.4 L48.3,191.1 L47.6,193.7 L47.0,196.3 L46.4,199.0 L45.8,201.6 L45.3,204.3 L44.8,207.0 L44.3,209.7 L43.9,212.4 L43.5,215.0 L43.2,217.7 L42.9,220.4 L42.6,223.1 L42.3,225.8 L42.1,228.5 L41.9,231.2 L41.7,233.9 L41.6,236.6 L41.4,239.3 L41.3,242.0 L41.2,244.7 L41.1,247.4 L41.1,250.1 L41.0,252.8 L41.0,255.5 L41.0,258.2 L41.0,260.9 L41.1,263.6 L41.2,266.3 L41.3,269.0 L41.4,271.7 L41.6,274.4 L41.8,277.1 L42.0,279.8 L42.3,282.5 L42.6,285.2 L43.0,287.9 L43.4,290.6 L43.9,293.3 L44.4,296.0 L44.9,298.7 L45.5,301.3 L46.1,304.0 L46.8,306.6 L47.5,309.3 L48.2,311.9 L49.0,314.5 L49.9,317.1 L50.8,319.7 L51.7,322.3 L52.6,324.8 L53.6,327.4 L54.7,329.9 L55.8,332.4 L56.9,334.9 L58.0,337.4 L59.2,339.9 L60.5,342.3 L61.7,344.7 L63.0,347.2 L64.3,349.5 L65.7,351.9 L67.1,354.3 L68.5,356.6 L70.0,358.9 L71.5,361.2 L73.0,363.5 L74.6,365.7 L76.1,368.0 L77.8,370.2 L79.4,372.4 L81.1,374.5 L82.8,376.7 L84.5,378.8 L86.3,380.9 L88.1,382.9 L89.9,385.0 L145,334 A123,123 0 0 1 156.7,139.4 Z" fill="url(#wallgR)"/>
<g clip-path="url(#wcR)">
<path d="M100,40 L0,150 L56,160 C60,166 64,167.5 68,167.5 C74,167.5 79,168.5 83,173 C86,177 88.5,183 91,189 C96,187 103,183.8 114.4,175.8 L220,100 Z" fill="url(#pinkovR)"/>
<rect x="20" y="280" width="180" height="150" fill="url(#pinkovR)" mask="url(#lomask)"/>
<path d="M104.9,96.6 L156.7,145.5 M99.4,101.5 L153.6,147.8 M94.2,106.5 L150.3,150.4 M89.1,111.8 L147.1,153.2 M84.2,117.2 L143.8,156.3 M79.5,122.8 L140.6,159.5 M75.1,128.6 L137.4,162.9 M70.8,134.5 L134.3,166.5 M66.7,140.5 L131.3,170.3 M62.9,146.7 L128.5,174.3 M59.3,153.1 L125.8,178.4 M55.9,159.6 L123.2,182.7 M36.2,278.4 L111.7,272.2 M35.0,267.3 L109.7,263.2 M34.4,256.1 L108.3,254.0 M34.4,244.8 L107.7,244.8 M35.0,233.7 L107.7,235.5 M36.3,222.5 L108.6,226.3 M38.2,211.5 L110.1,217.2 M40.6,200.5 L112.3,208.2 M43.7,189.7 L115.3,199.4 M47.3,179.1 L118.9,190.9 M38.0,289.5 L114.5,281.1 M40.4,300.3 L116.7,286.8 M43.4,311.0 L119.3,292.5 M46.9,321.5 L122.1,297.9 M51.0,331.9 L125.2,303.3 M55.7,341.9 L128.6,308.4 M61.0,351.7 L132.2,313.4 M66.7,361.2 L136.1,318.2 M73.0,370.4 L140.2,322.8 M79.7,379.2 L144.6,327.1" stroke="#a65a41" stroke-width="1.4" fill="none"/>
</g>
<path d="M113.0,95.0 L110.9,96.8 L108.8,98.5 L106.7,100.3 L104.6,102.1 L102.6,104.0 L100.6,105.8 L98.6,107.7 L96.7,109.7 L94.8,111.6 L92.9,113.6 L91.0,115.6 L89.2,117.6 L87.4,119.7 L85.6,121.7 L83.8,123.8 L82.1,126.0 L80.4,128.1 L78.8,130.3 L77.1,132.5 L75.5,134.7 L74.0,136.9 L72.4,139.2 L70.9,141.5 L69.4,143.8 L68.0,146.1 L66.6,148.5 L65.2,150.8 L63.9,153.2 L62.5,155.6 L61.3,158.0 L60.0,160.5 L58.8,162.9 L57.7,165.4 L56.6,167.9 L55.5,170.4 L54.4,173.0 L53.4,175.5 L52.5,178.1 L51.6,180.6 L50.7,183.2 L49.9,185.8 L49.1,188.4 L48.3,191.1 L47.6,193.7 L47.0,196.3 L46.4,199.0 L45.8,201.6 L45.3,204.3 L44.8,207.0 L44.3,209.7 L43.9,212.4 L43.5,215.0 L43.2,217.7 L42.9,220.4 L42.6,223.1 L42.3,225.8 L42.1,228.5 L41.9,231.2 L41.7,233.9 L41.6,236.6 L41.4,239.3 L41.3,242.0 L41.2,244.7 L41.1,247.4 L41.1,250.1 L41.0,252.8 L41.0,255.5 L41.0,258.2 L41.0,260.9 L41.1,263.6 L41.2,266.3 L41.3,269.0 L41.4,271.7 L41.6,274.4 L41.8,277.1 L42.0,279.8 L42.3,282.5 L42.6,285.2 L43.0,287.9 L43.4,290.6 L43.9,293.3 L44.4,296.0 L44.9,298.7 L45.5,301.3 L46.1,304.0 L46.8,306.6 L47.5,309.3 L48.2,311.9 L49.0,314.5 L49.9,317.1 L50.8,319.7 L51.7,322.3 L52.6,324.8 L53.6,327.4 L54.7,329.9 L55.8,332.4 L56.9,334.9 L58.0,337.4 L59.2,339.9 L60.5,342.3 L61.7,344.7 L63.0,347.2 L64.3,349.5 L65.7,351.9 L67.1,354.3 L68.5,356.6 L70.0,358.9 L71.5,361.2 L73.0,363.5 L74.6,365.7 L76.1,368.0 L77.8,370.2 L79.4,372.4 L81.1,374.5 L82.8,376.7 L84.5,378.8 L86.3,380.9 L88.1,382.9 L89.9,385.0 L145,334 A123,123 0 0 1 156.7,139.4 Z" fill="none" stroke="#9e4f36" stroke-width="1.4" stroke-linejoin="round"/>
<path d="M87.5,92.6 L85.7,94.3 L83.9,96.0 L82.2,97.7 L80.4,99.5 L78.7,101.3 L77.0,103.1 L75.3,104.9 L73.6,106.7 L71.9,108.6 L70.3,110.5 L68.7,112.4 L67.1,114.3 L65.5,116.2 L64.0,118.2 L62.5,120.1 L61.0,122.1 L59.5,124.1 L58.0,126.1 L56.6,128.2 L55.2,130.2 L53.9,132.3 L52.5,134.4 L51.3,136.6 L50.0,138.7 L48.8,140.9 L47.5,143.0 L46.3,145.2 L45.2,147.4 L44.0,149.6 L42.9,151.8 L41.8,154.1 L40.8,156.3 L39.7,158.6 L38.8,160.9 L37.8,163.2 L36.9,165.5 L35.9,167.8 L35.1,170.1 L34.2,172.4 L33.4,174.8 L32.6,177.1 L31.8,179.5 L31.1,181.8 L30.4,184.2 L29.7,186.6 L29.0,189.0 L28.4,191.4 L27.8,193.8 L27.3,196.2 L26.7,198.6 L26.2,201.1 L25.7,203.5 L25.3,205.9 L24.9,208.3 L24.5,210.8 L24.1,213.2 L23.7,215.7 L23.3,218.1 L23.0,220.6 L22.7,223.0 L22.4,225.5 L22.1,227.9 L21.9,230.4 L21.7,232.8 L21.5,235.3 L21.4,237.7 L21.3,240.2 L21.2,242.7 L21.1,245.1 L21.1,247.6 L21.1,250.1 L21.1,252.5 L21.2,255.0 L21.3,257.5 L21.4,259.9 L21.6,262.4 L21.7,264.8 L21.9,267.3 L22.2,269.8 L22.4,272.2 L22.7,274.7 L23.0,277.1 L23.4,279.5 L23.8,282.0 L24.3,284.4 L24.8,286.8 L25.3,289.2 L25.8,291.6 L26.4,294.0 L27.0,296.4 L27.7,298.7 L28.3,301.1 L29.1,303.4 L30.0,305.7 L31.1,308.0 L32.1,310.2 L33.2,312.4 L34.3,314.6 L35.4,316.8 L36.6,319.0 L37.8,321.1 L39.0,323.2 L40.4,325.3 L41.9,327.3 L43.4,329.3 L44.9,331.2 L46.5,333.1 L48.4,334.8 L50.4,336.5 L53.1,335.3 L52.8,332.9 L52.4,330.5 L51.6,328.3 L50.7,326.2 L49.7,324.1 L48.8,321.9 L47.8,319.8 L46.9,317.7 L45.9,315.5 L45.0,313.4 L44.1,311.2 L43.2,309.0 L42.4,306.8 L41.7,304.6 L41.0,302.4 L40.3,300.1 L39.7,297.8 L39.2,295.6 L38.6,293.3 L38.1,291.0 L37.7,288.7 L37.2,286.4 L36.8,284.1 L36.4,281.8 L36.0,279.4 L35.6,277.1 L35.3,274.8 L35.0,272.5 L34.7,270.1 L34.5,267.8 L34.3,265.5 L34.1,263.1 L33.9,260.8 L33.8,258.4 L33.7,256.1 L33.6,253.7 L33.5,251.4 L33.4,249.0 L33.4,246.6 L33.4,244.3 L33.4,241.9 L33.4,239.6 L33.5,237.2 L33.6,234.8 L33.7,232.5 L33.9,230.1 L34.0,227.8 L34.2,225.4 L34.5,223.1 L34.7,220.7 L35.0,218.4 L35.3,216.0 L35.7,213.7 L36.1,211.3 L36.6,209.0 L37.0,206.7 L37.5,204.4 L38.1,202.1 L38.6,199.8 L39.2,197.5 L39.8,195.2 L40.4,192.9 L41.1,190.6 L41.8,188.3 L42.5,186.1 L43.2,183.8 L44.0,181.6 L44.9,179.4 L45.8,177.2 L46.8,175.0 L47.8,172.9 L48.8,170.7 L49.8,168.6 L50.9,166.5 L52.0,164.4 L53.1,162.3 L54.3,160.3 L55.4,158.2 L56.6,156.2 L57.8,154.1 L59.0,152.1 L60.3,150.1 L61.5,148.1 L62.8,146.2 L64.1,144.2 L65.5,142.3 L66.8,140.4 L68.2,138.5 L69.6,136.6 L70.9,134.7 L72.3,132.7 L73.7,130.9 L75.1,129.0 L76.5,127.1 L78.0,125.3 L79.5,123.5 L81.0,121.7 L82.5,119.9 L84.0,118.1 L85.6,116.4 L87.1,114.7 L88.7,112.9 L90.3,111.2 L92.0,109.5 L93.6,107.9 L95.3,106.2 L96.9,104.6 L98.6,103.0 L100.4,101.4 Z" fill="#a24836" stroke="#a24836" stroke-width="0.8" stroke-linejoin="round"/>
<path d="M87.9,95.1 L85.7,97.2 L83.6,99.3 L81.5,101.4 L79.5,103.5 L77.4,105.6 L75.4,107.8 L73.5,110.0 L71.5,112.3 L69.6,114.5 L67.7,116.8 L65.9,119.1 L64.1,121.5 L62.3,123.9 L60.5,126.3 L58.8,128.7 L57.1,131.1 L55.5,133.6 L54.0,136.1 L52.4,138.7 L50.9,141.3 L49.5,143.8 L48.1,146.4 L46.7,149.1 L45.3,151.7 L44.0,154.4 L42.7,157.0 L41.5,159.7 L40.4,162.5 L39.2,165.2 L38.1,168.0 L37.1,170.7 L36.0,173.5 L35.1,176.3 L34.1,179.1 L33.2,181.9 L32.4,184.8 L31.6,187.6 L30.8,190.5 L30.1,193.3 L29.4,196.2 L28.8,199.1 L28.2,202.0 L27.6,204.9 L27.1,207.8 L26.6,210.7 L26.2,213.6 L25.7,216.5 L25.3,219.4 L24.9,222.3 L24.5,225.2 L24.2,228.2 L24.0,231.1 L23.7,234.0 L23.5,237.0 L23.4,239.9 L23.3,242.9 L23.2,245.8 L23.2,248.7 L23.2,251.7 L23.3,254.6 L23.4,257.5 L23.5,260.5 L23.7,263.4 L24.0,266.3 L24.2,269.3 L24.5,272.2 L24.9,275.1 L25.3,278.0 L25.7,280.9 L26.3,283.8 L26.9,286.7 L27.5,289.5 L28.2,292.4 L28.9,295.2 L29.7,298.1 L30.4,300.9 L31.4,303.6 L32.6,306.3 L33.9,309.0 L35.1,311.7 L36.5,314.3 L37.8,316.9 L39.2,319.4 L40.7,322.0 L42.3,324.4 L44.1,326.8 L45.8,329.2 L47.7,331.5 L49.9,333.6 L51.3,333.0 L50.8,330.1 L49.6,327.6 L48.5,325.0 L47.3,322.4 L46.2,319.8 L45.0,317.2 L43.9,314.6 L42.8,312.0 L41.7,309.3 L40.8,306.7 L39.9,304.0 L39.1,301.2 L38.4,298.5 L37.7,295.7 L37.0,293.0 L36.4,290.2 L35.9,287.4 L35.3,284.6 L34.8,281.8 L34.4,279.0 L34.0,276.1 L33.6,273.3 L33.3,270.5 L33.0,267.6 L32.7,264.8 L32.5,262.0 L32.3,259.1 L32.2,256.3 L32.1,253.4 L32.0,250.5 L31.9,247.7 L31.9,244.8 L31.9,242.0 L31.9,239.1 L32.0,236.2 L32.2,233.4 L32.3,230.5 L32.5,227.7 L32.8,224.8 L33.1,221.9 L33.4,219.1 L33.8,216.2 L34.2,213.4 L34.7,210.6 L35.3,207.8 L35.9,204.9 L36.5,202.1 L37.2,199.3 L37.9,196.6 L38.6,193.8 L39.4,191.0 L40.2,188.3 L41.1,185.5 L42.0,182.8 L42.9,180.1 L44.1,177.4 L45.2,174.8 L46.5,172.2 L47.7,169.6 L49.0,167.0 L50.3,164.5 L51.6,161.9 L53.0,159.4 L54.4,156.9 L55.9,154.5 L57.3,152.0 L58.8,149.6 L60.4,147.2 L62.0,144.8 L63.6,142.4 L65.2,140.1 L66.9,137.8 L68.5,135.5 L70.2,133.2 L71.8,130.9 L73.5,128.6 L75.3,126.3 L77.0,124.1 L78.8,121.9 L80.6,119.7 L82.5,117.6 L84.4,115.5 L86.3,113.4 L88.2,111.3 L90.2,109.2 L92.2,107.2 L94.2,105.2 L96.2,103.2 L98.3,101.3 Z" fill="#bf3328"/>
<path d="M88.1,98.1 L86.1,100.1 L84.0,102.1 L82.0,104.2 L80.0,106.3 L78.1,108.4 L76.1,110.5 L74.2,112.7 L72.3,114.9 L70.5,117.1 L68.7,119.3 L66.9,121.6 L65.1,123.9 L63.4,126.2 L61.7,128.5 L60.1,130.9 L58.5,133.3 L56.9,135.7 L55.4,138.2 L53.9,140.7 L52.5,143.2 L51.1,145.7 L49.7,148.2 L48.4,150.8 L47.1,153.4 L45.8,155.9 L44.6,158.5 L43.4,161.2 L42.3,163.8 L41.2,166.5 L40.1,169.2 L39.1,171.9 L38.1,174.6 L37.2,177.3 L36.2,180.0 L35.4,182.8 L34.6,185.5 L33.8,188.3 L33.0,191.1 L32.3,193.8 L31.7,196.6 L31.0,199.4 L30.5,202.3 L29.9,205.1 L29.4,207.9 L28.9,210.7 L28.5,213.5 L28.0,216.4 L27.6,219.2 L27.2,222.0 L26.9,224.9 L26.6,227.7 L26.3,230.6 L26.1,233.4 L25.9,236.3 L25.7,239.1 L25.6,242.0 L25.5,244.8 L25.5,247.7 L25.5,250.6 L25.5,253.4 L25.6,256.3 L25.8,259.1 L25.9,262.0 L26.1,264.8 L26.4,267.7 L26.7,270.5 L27.0,273.4 L27.4,276.2 L27.7,279.0 L28.2,281.8 L28.8,284.6 L29.4,287.4 L30.0,290.2 L30.7,293.0 L31.4,295.7 L32.2,298.5 L32.9,301.2 L34.0,303.9 L35.2,306.5 L36.4,309.1 L37.7,311.6 L39.0,314.2 L40.3,316.7 L41.7,319.2 L43.1,321.7 L44.7,324.0 L46.5,326.3 L48.2,328.6 L50.0,330.8 L49.6,331.0 L48.4,328.5 L47.2,325.9 L46.1,323.4 L45.0,320.8 L43.9,318.2 L42.7,315.7 L41.6,313.1 L40.6,310.5 L39.6,307.8 L38.7,305.1 L37.9,302.4 L37.1,299.7 L36.4,297.0 L35.8,294.3 L35.2,291.5 L34.6,288.7 L34.1,286.0 L33.6,283.2 L33.1,280.4 L32.7,277.6 L32.3,274.8 L31.9,272.0 L31.6,269.2 L31.3,266.4 L31.1,263.6 L30.9,260.8 L30.7,258.0 L30.6,255.1 L30.5,252.3 L30.5,249.5 L30.4,246.6 L30.4,243.8 L30.4,241.0 L30.5,238.1 L30.6,235.3 L30.7,232.5 L30.9,229.6 L31.1,226.8 L31.4,224.0 L31.6,221.2 L32.0,218.3 L32.3,215.5 L32.8,212.7 L33.3,209.9 L33.9,207.1 L34.5,204.3 L35.1,201.6 L35.8,198.8 L36.5,196.0 L37.2,193.3 L38.0,190.5 L38.8,187.8 L39.7,185.1 L40.6,182.4 L41.5,179.7 L42.6,177.1 L43.7,174.5 L44.9,171.9 L46.2,169.3 L47.4,166.8 L48.7,164.2 L50.0,161.7 L51.4,159.2 L52.8,156.8 L54.2,154.3 L55.7,151.9 L57.1,149.5 L58.7,147.1 L60.2,144.7 L61.8,142.4 L63.4,140.1 L65.0,137.8 L66.7,135.5 L68.3,133.2 L70.0,130.9 L71.6,128.6 L73.3,126.4 L75.1,124.2 L76.8,122.0 L78.6,119.8 L80.4,117.7 L82.3,115.6 L84.2,113.5 L86.1,111.4 L88.0,109.3 L89.9,107.3 L91.9,105.3 L93.9,103.4 L95.9,101.4 Z" fill="#da1d21"/>
<path d="M67.5,138.3 L66.9,136.9 L66.3,135.6 L65.7,134.3 L65.6,133.3 L65.5,132.2 L65.3,131.2 L65.2,130.1 L65.2,129.2 L65.5,128.4 L65.7,127.6 L65.9,126.8 L66.2,126.0 L66.4,125.2 L66.6,124.3 L67.0,123.6 L67.4,122.9 L67.8,122.2 L68.2,121.5 L68.6,120.8 L69.0,120.2 L69.5,119.5 L69.9,118.8 L70.3,118.1 L70.8,117.4 L71.3,116.9 L71.9,116.3 L72.5,115.7 L73.1,115.2 L73.6,114.6 L74.2,114.0 L74.8,113.5 L75.4,112.9 L76.0,112.4 L76.6,111.9 L77.4,111.5 L78.1,111.1 L78.8,110.6 L79.5,110.2 L80.2,109.8 L81.0,109.4 L81.8,109.1 L82.7,108.8 L83.6,108.6 L84.5,108.4 L85.4,108.1 L86.5,108.0 L88.0,108.4 L89.4,108.7 L90.9,109.0 L90.9,109.0 L90.3,109.6 L89.8,110.1 L89.3,110.7 L88.8,111.3 L88.2,111.8 L87.7,112.4 L87.2,112.9 L86.7,113.5 L86.2,114.1 L85.7,114.6 L85.2,115.2 L84.7,115.8 L84.2,116.4 L83.7,116.9 L83.2,117.5 L82.7,118.1 L82.2,118.7 L81.7,119.3 L81.2,119.9 L80.7,120.4 L80.2,121.0 L79.7,121.6 L79.2,122.2 L78.8,122.8 L78.3,123.4 L77.8,124.0 L77.3,124.6 L76.9,125.2 L76.4,125.8 L75.9,126.4 L75.5,127.0 L75.0,127.6 L74.5,128.3 L74.1,128.9 L73.6,129.5 L73.2,130.1 L72.7,130.7 L72.3,131.3 L71.8,132.0 L71.4,132.6 L70.9,133.2 L70.5,133.8 L70.1,134.5 L69.6,135.1 L69.2,135.7 L68.8,136.4 L68.3,137.0 L67.9,137.6 L67.5,138.3 Z" fill="#6e0f10"/><path d="M40.5,315 C44,323 48.6,329 53,334 C58,339.5 66,343.5 78,346.5" stroke="#a84836" stroke-width="9" fill="none" stroke-linecap="butt"/>
<path d="M40.8,315.5 C44,323 48.6,329 53,334 C58,339.5 64,342.5 72,345" stroke="#d81e21" stroke-width="5" fill="none" stroke-linecap="round"/>
<path d="M56,168.5 C60,168 64,167.5 68,167.5 C74,167.5 79,168.5 83,173 C86,177 88.5,183 91,189 C93,195 94,200 94.3,206.6" stroke="#a64436" stroke-width="4.25" fill="none" stroke-linecap="round"/>
<path d="M92,188.5 C96,187 100,185.5 103,183.8 C107,181.5 111,178.5 114.4,175.8" stroke="#a64436" stroke-width="3.40" fill="none" stroke-linecap="round"/>
<path d="M48,230.8 C52,231 56,231.5 62,232.5 C67,233.5 71,235 74.4,235.8" stroke="#a64436" stroke-width="4.67" fill="none" stroke-linecap="round"/>
<path d="M74.4,235.8 C78,233.5 82,231 87.1,226.4" stroke="#a64436" stroke-width="3.82" fill="none" stroke-linecap="round"/>
<path d="M74.4,235.8 C78,242 82,248 86.4,255.2" stroke="#a64436" stroke-width="3.82" fill="none" stroke-linecap="round"/>
<path d="M50,300.5 C54,300.8 60,301 66,301" stroke="#a64436" stroke-width="4.67" fill="none" stroke-linecap="round"/>
<path d="M66,301 C70,298 74,295.5 78.5,293.5" stroke="#a64436" stroke-width="3.82" fill="none" stroke-linecap="round"/>
<path d="M66,301 C70,306 74,310.5 78.5,315" stroke="#a64436" stroke-width="3.82" fill="none" stroke-linecap="round"/>
<path d="M77,346.3 C88,348 98,348.5 107.5,348.5" stroke="#a64436" stroke-width="4.67" fill="none" stroke-linecap="round"/>
<path d="M79,347 C83,354 88,361 91.8,367.4" stroke="#a64436" stroke-width="3.82" fill="none" stroke-linecap="round"/>
<path d="M54,152 L56.5,159 Q57,166 64,166 L64,171 Q54,172 48,176.5 L38,186 Z" fill="#d9201f"/>
<path d="M30,212 L38.5,219 Q41,228 51,229 L51,234.5 Q42,235 37,241 L29,246 Z" fill="#d9201f"/>
<path d="M33,288 L41,295 Q46,298.5 55,298.8 L55,303.5 Q47,304 45,306.5 L37,312 Z" fill="#d9201f"/>
<path d="M76,345 L84,346 L81,352 Z" fill="#d9201f"/></g>

<path d="M71.2,117 L71.2,53 L172.6,52" stroke="#9a5443" stroke-width="1.6" fill="none"/>
<path d="M90,94 L90,81.3 L169.5,81.3" stroke="#e0302c" stroke-width="1.6" fill="none"/>
<path d="M168,132.3 L88,178.5" stroke="#393385" stroke-width="1.6"/>
<path d="M103,320 L165,320" stroke="#393385" stroke-width="1.7"/>
<path d="M487.4,100 L477,178.7" stroke="#393385" stroke-width="1.6"/>

<path d="M117.0,215.2 L169.2,215.2" stroke="#111" stroke-width="2.9"/><path d="M106.5,215.2 L118.0,222.7 L118.0,207.7 Z" fill="#111"/>
<path d="M114.3,250.5 L168.6,250.5" stroke="#111" stroke-width="2.9"/><path d="M103.8,250.5 L115.3,258.0 L115.3,243.0 Z" fill="#111"/>
<path d="M477.1,228.8 L525.4,234.6" stroke="#111" stroke-width="2.9"/><path d="M466.7,227.5 L477.2,236.3 L479.0,221.4 Z" fill="#111"/>
<path d="M473.4,259.2 L525.9,251.8" stroke="#111" stroke-width="2.9"/><path d="M463.0,260.7 L475.4,266.5 L473.3,251.7 Z" fill="#111"/>

<text x="181" y="62" font-family="&quot;Liberation Sans&quot;, sans-serif" font-size="25" fill="#7a2e34">Atheroma</text>
<text x="181.4" y="91.3" font-family="&quot;Liberation Sans&quot;, sans-serif" font-size="25" fill="#d2212a">Coronary artery</text>
<text x="180.5" y="138.5" font-family="&quot;Liberation Sans&quot;, sans-serif" font-size="25" fill="#35328f">Perforating</text>
<text x="180.5" y="159.5" font-family="&quot;Liberation Sans&quot;, sans-serif" font-size="25" fill="#35328f">vessels</text>
<text x="180.5" y="217" font-family="&quot;Liberation Sans&quot;, sans-serif" font-size="25" fill="#222">5 mm Hg</text>
<text x="180.5" y="238.5" font-family="&quot;Liberation Sans&quot;, sans-serif" font-size="25" fill="#222">(End diastolic</text>
<text x="181.8" y="260.8" font-family="&quot;Liberation Sans&quot;, sans-serif" font-size="25" fill="#222">pressure)</text>
<text x="180.9" y="329.7" font-family="&quot;Liberation Sans&quot;, sans-serif" font-size="25" fill="#35328f">Left ventricular</text>
<text x="181" y="358.2" font-family="&quot;Liberation Sans&quot;, sans-serif" font-size="25" fill="#35328f">wall</text>
<text x="476.5" y="42.1" font-family="&quot;Liberation Sans&quot;, sans-serif" font-size="25" fill="#7b3237">Ischaemic</text>
<text x="477" y="61.8" font-family="&quot;Liberation Sans&quot;, sans-serif" font-size="25" fill="#7b3237">subendocardial</text>
<text x="477" y="82.8" font-family="&quot;Liberation Sans&quot;, sans-serif" font-size="25" fill="#7b3237">zone</text>
<text x="531.8" y="246.5" font-family="&quot;Liberation Sans&quot;, sans-serif" font-size="25" fill="#222">25 mm Hg</text>
<rect x="22.5" y="405" width="264.5" height="28" fill="#a95442"/>
<text x="24.8" y="428.6" font-family="&quot;Liberation Sans&quot;, sans-serif" font-size="25" fill="#fff3ea">IN BETWEEN ATTACK</text>
<rect x="386" y="405" width="216.6" height="28" fill="#a95442"/>
<text x="393.4" y="428.6" font-family="&quot;Liberation Sans&quot;, sans-serif" font-size="25" fill="#fff3ea">DURING ANGINA</text>


<rect x="0" y="0" width="663" height="1" fill="#4a535b"/>
<rect x="0" y="1" width="663" height="1" fill="#b3bbc3"/>
<rect x="658" y="0" width="2" height="448" fill="#e2e7ef" opacity="0.6"/>
<rect x="660" y="0" width="1" height="448" fill="#5d6164"/>
<rect x="661" y="0" width="2" height="448" fill="#393938"/>
<rect x="0" y="443" width="660" height="1" fill="#e4eaee"/>
<rect x="0" y="444" width="663" height="1" fill="#6e7276"/>
<rect x="0" y="445" width="663" height="2" fill="#2f3232"/>
<rect x="0" y="447" width="663" height="1" fill="#a2a3a4"/>

</svg>
</body></html>
